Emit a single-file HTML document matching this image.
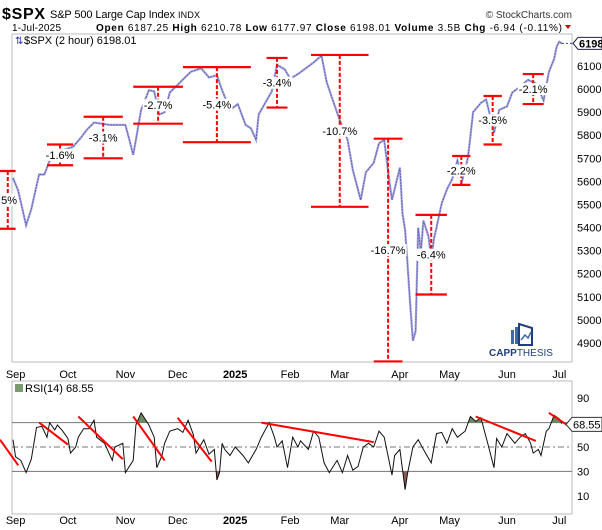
<!DOCTYPE html>
<html><head><meta charset="utf-8"><style>
body{margin:0;background:#fff;}
svg{display:block;font-family:"Liberation Sans",sans-serif;}
</style></head><body>
<svg id="c" width="602" height="530" viewBox="0 0 602 530">
<g>
<text x="2" y="19" font-size="16" font-weight="bold" textLength="43">$SPX</text>
<text x="50" y="18" font-size="11" textLength="125">S&amp;P 500 Large Cap Index</text>
<text x="178" y="18" font-size="9" textLength="22">INDX</text>
<text x="572" y="18" font-size="10" text-anchor="end" fill="#333">© StockCharts.com</text>
<text x="12" y="31" font-size="10" textLength="49">1-Jul-2025</text>
<text x="96" y="31" font-size="10" textLength="466"><tspan font-weight="bold">Open</tspan> 6187.25 <tspan font-weight="bold">High</tspan> 6210.78 <tspan font-weight="bold">Low</tspan> 6177.97 <tspan font-weight="bold">Close</tspan> 6198.01 <tspan font-weight="bold">Volume</tspan> 3.5B <tspan font-weight="bold">Chg</tspan> -6.94 (-0.11%)</text>
<path d="M565 25 l6 0 l-3 4z" fill="#c00"/>
</g>
<rect x="12" y="34" width="560" height="328" fill="none" stroke="#bbb"/>
<rect x="12" y="381" width="560" height="133" fill="none" stroke="#bbb"/>
<g id="gP"></g>
<g id="gR"></g>
<text x="24" y="44" font-size="11">$SPX (2 hour) 6198.01</text>
<text x="15" y="44" font-size="10" fill="#33a">⇅</text>
<rect x="15" y="384" width="8" height="8" fill="#7a9a70"/>
<text x="25" y="392" font-size="11">RSI(14) 68.55</text>
<g>
<rect x="511" y="330" width="3" height="14" fill="#3a6aa8"/><rect x="515" y="327" width="3" height="17" fill="#3a6aa8"/>
<path d="M519 324 L532 328 L532 345 L519 345Z" fill="none" stroke="#1f3f7a" stroke-width="2"/>
<path d="M521 340 l4 -5 l3 3 l3 -6" fill="none" stroke="#3a6aa8" stroke-width="1.5"/>
<text x="521" y="356" font-size="10" font-weight="bold" text-anchor="middle" fill="#1f3f7a">CAPP<tspan font-weight="normal">THESIS</tspan></text>
</g>
</svg>
<script>
const priceIdx=[0,2,5,7,10,12,14,19,23,26,28,31,37,43,45,46,47,49,52,54,56,58,60,64,68,72,75,78,80,83,86,89,91,93,94,96,99,101,104,106,109,115,118,120,123,125,128,130,133,135,138,140,142,144,145,148,149,150,151,152,153,154,155,156,157,159,160,161,162,164,166,168,170,172,174,175,176,179,181,182,184,186,189,191,194,197,200,203,205,207,208,209,210];
const priceVal=[5615,5560,5410,5480,5630,5630,5690,5735,5750,5790,5820,5855,5845,5845,5760,5715,5780,5910,5995,5990,5890,5900,5985,6030,6075,6090,6050,6060,5995,5910,5935,5845,5830,5780,5890,5930,5990,6105,6085,6045,6065,6115,6145,6030,5930,5865,5780,5650,5520,5640,5680,5765,5780,5600,5520,5660,5460,5390,5230,5060,4910,4950,5400,5290,5430,5360,5260,5350,5400,5505,5565,5610,5690,5610,5700,5795,5900,5940,5955,5910,5810,5910,5925,5985,6010,6040,6025,5950,6075,6130,6185,6205,6198];
const rsiIdx=[0,1,3,5,7,9,11,13,14,16,17,19,21,22,24,25,27,29,31,32,35,38,39,42,43,46,47,49,52,54,55,57,58,60,63,65,67,69,70,73,75,77,78,79,80,81,83,85,88,90,93,95,98,100,101,103,105,107,109,110,113,115,117,119,121,124,126,128,130,132,134,136,138,140,142,145,146,148,150,151,153,155,157,160,162,164,166,168,170,173,175,177,179,182,184,185,187,189,192,194,196,198,199,201,202,204,205,207,209,210];
const rsiVal=[56,42,39,29,40,66,67,58,70,64,68,63,57,45,50,58,65,65,72,58,53,39,50,53,29,39,68,78,68,58,33,43,53,63,65,62,72,60,45,56,44,48,23,29,53,48,43,50,43,37,48,58,70,58,50,55,33,58,50,55,48,63,58,37,29,39,29,43,31,34,50,53,50,63,58,27,43,48,15,29,50,56,48,37,61,62,53,65,58,63,75,71,74,50,33,57,50,61,53,58,61,53,45,48,43,63,65,76,73,69];
const priceTicks=[6100,6000,5900,5800,5700,5600,5500,5400,5300,5200,5100,5000,4900];
const rsiTicks=[90,50,30,10];
const monthLabels=["Sep","Oct","Nov","Dec","2025","Feb","Mar","Apr","May","Jun","Jul"];
const monthIdx=[1,21,43,63,85,106,125,148,167,189,209];
const ddLabels=["-1.5%","-1.6%","-3.1%","-2.7%","-5.4%","-3.4%","-10.7%","-16.7%","-6.4%","-2.2%","-3.5%","-2.1%"];
const ddTop=[5645,5760,5880,6010,6095,6135,6148,5785,5455,5710,5970,6065];
const ddBot=[5395,5670,5700,5850,5770,5920,5490,4820,5110,5585,5760,5935];
const ddStart=[-5,13,27,46,65,97,114,138,154,168,180,195];
const ddEnd=[1,23,42,65,91,105,136,149,166,175,187,203];
const trendStart=[[-5,56],[10,70],[25,75],[46,75],[63,74],[95,70],[177,75],[205,78]];
const trendEnd=[[2,35],[21,52],[42,40],[58,39],[76,38],[138,54],[200,55],[212,68]];

const X=i=>13+i*2.614;
const YP=p=>66+(6100-p)*0.2308;
const YR=v=>447-(v-50)*1.22;
const NS="http://www.w3.org/2000/svg";
function mk(p,t,a){const e=document.createElementNS(NS,t);for(const k in a)e.setAttribute(k,a[k]);p.appendChild(e);return e;}
const gP=document.getElementById('gP'),gR=document.getElementById('gR');

priceTicks.forEach(v=>{const t=mk(gP,'text',{x:577,y:YP(v)+4,'font-size':11});t.textContent=v;

});
monthLabels.forEach((m,i)=>{[378,524].forEach(y=>{const t=mk(gP,'text',{x:X(monthIdx[i]),y:y,'font-size':11,'text-anchor':'middle','font-weight':m==='2025'?'bold':'normal'});t.textContent=m;

});});

let d=priceIdx.map((v,i)=>(i?'L':'M')+X(v).toFixed(1)+' '+YP(priceVal[i]).toFixed(1)).join(' ');
const pl=mk(gP,'path',{d:d,fill:'none',stroke:'#a8a8dc','stroke-width':2.2});


const pl2=mk(gP,'path',{d:d,fill:'none',stroke:'#5a5ab4','stroke-width':0.9,'stroke-dasharray':'2 1'});


const last=priceVal[priceVal.length-1];
const ll=mk(gP,'line',{x1:X(210),x2:574,y1:YP(last),y2:YP(last),stroke:'#33c','stroke-dasharray':'2 2'});


const lb=mk(gP,'path',{d:`M573 ${YP(last)} l5 -6 h24 v12 h-24z`,fill:'#fff',stroke:'#224'});


const lt=mk(gP,'text',{x:579,y:YP(last)+4,'font-size':11,'font-weight':'bold'});lt.textContent='6198.';



ddLabels.forEach((l,i)=>{const x1=X(ddStart[i]),x2=X(ddEnd[i]),xm=(x1+x2)/2,yt=YP(ddTop[i]),yb=YP(ddBot[i]);
const g=mk(gP,'g',{});


mk(g,'line',{x1:x1,x2:x2,y1:yt,y2:yt,stroke:'#f00','stroke-width':2.2});
mk(g,'line',{x1:x1,x2:x2,y1:yb,y2:yb,stroke:'#f00','stroke-width':2.2});
mk(g,'line',{x1:xm,x2:xm,y1:yt,y2:yb,stroke:'#f00','stroke-width':2,'stroke-dasharray':'4 2'});
const ym=(yt+yb)/2;
const w=l.length*6.2;
mk(g,'rect',{x:(i===0?17-w:xm-w/2),y:ym-6,width:w,height:12,fill:'#fff'});
const t=mk(g,'text',{x:i===0?17:xm,y:ym+4,'font-size':11,'text-anchor':i===0?'end':'middle'});t.textContent=l;});

[[70,'solid'],[30,'solid'],[50,'dash']].forEach(([v,s])=>{const e=mk(gR,'line',{x1:12,x2:572,y1:YR(v),y2:YR(v),stroke:'#777','stroke-width':1,'stroke-dasharray':s==='dash'?'6 3 2 3':'none'});

});
rsiTicks.forEach(v=>{const t=mk(gR,'text',{x:577,y:YR(v)+4,'font-size':11});t.textContent=v;

});
const rd=rsiIdx.map((v,i)=>(i?'L':'M')+X(v).toFixed(1)+' '+YR(rsiVal[i]).toFixed(1)).join(' ');
const defs=mk(gR,'defs',{});
const c1=mk(defs,'clipPath',{id:'ob'});mk(c1,'rect',{x:0,y:0,width:602,height:YR(70)});
const c2=mk(defs,'clipPath',{id:'os'});mk(c2,'rect',{x:0,y:YR(30),width:602,height:100});
const fo=mk(gR,'path',{d:rd+` L${X(210)} ${YR(70)} L${X(0)} ${YR(70)}Z`,fill:'#6a8a60','clip-path':'url(#ob)'});


const fs=mk(gR,'path',{d:rd+` L${X(210)} ${YR(30)} L${X(0)} ${YR(30)}Z`,fill:'#8a5a50','clip-path':'url(#os)'});


const rl=mk(gR,'path',{d:rd,fill:'none',stroke:'#111','stroke-width':1});


trendStart.forEach((s,i)=>{const e=trendEnd[i];const l=mk(gR,'line',{x1:Math.max(X(s[0]),0),y1:YR(s[1]),x2:X(e[0]),y2:YR(e[1]),stroke:'#f00','stroke-width':2});

});
const rb=mk(gR,'path',{d:`M566 ${YR(68.55)} l6 -7 h30 v14 h-30z`,fill:'#fff',stroke:'#333'});


const rt=mk(gR,'text',{x:573,y:YR(68.55)+4,'font-size':11});rt.textContent='68.55';


</script>
</body></html>
